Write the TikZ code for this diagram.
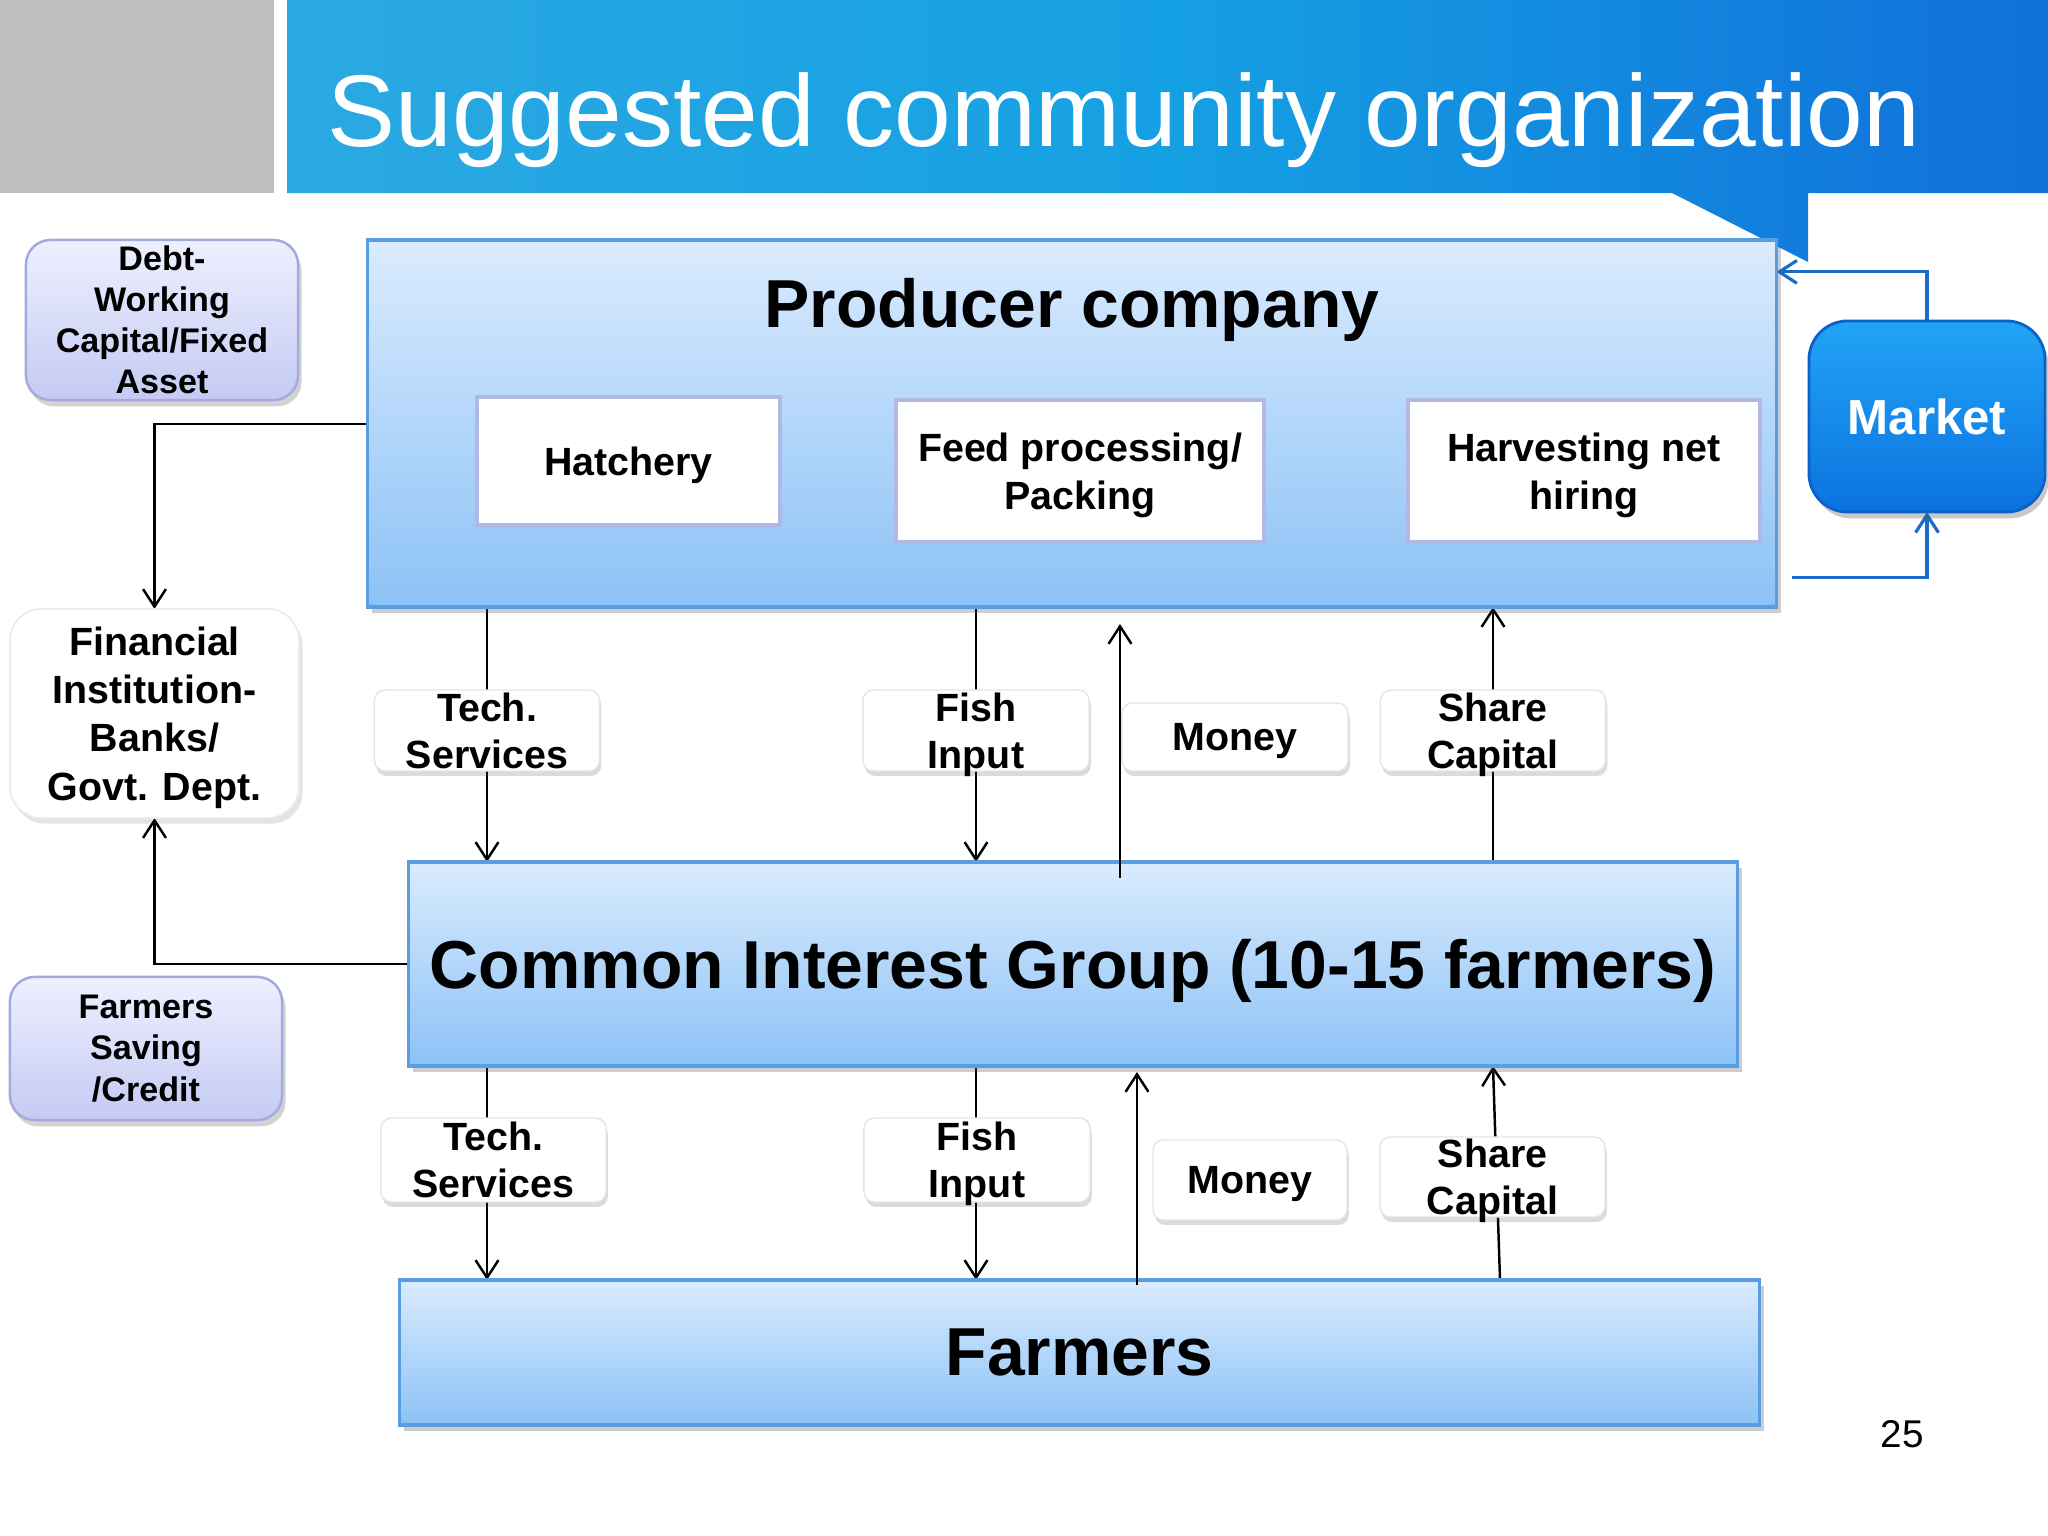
\documentclass[tikz,border=0pt]{standalone}
\usepackage{fontspec}
\setmainfont{Liberation Sans}
\usetikzlibrary{arrows.meta,shadows,calc}
\definecolor{bandL}{HTML}{2BA9E2}
\definecolor{bandM}{HTML}{15A0E3}
\definecolor{bandR}{HTML}{1070DA}
\definecolor{bigTop}{HTML}{DAEBFE}
\definecolor{bigBot}{HTML}{8CC2F6}
\definecolor{bigEdge}{HTML}{5A9EE2}
\definecolor{innerEdge}{HTML}{B0B9E6}
\definecolor{lavTop}{HTML}{EEF0FF}
\definecolor{lavBot}{HTML}{C4CAF3}
\definecolor{lavEdge}{HTML}{A3ABDD}
\definecolor{mktTop}{HTML}{22A4F6}
\definecolor{mktBot}{HTML}{0B72E0}
\definecolor{mktEdge}{HTML}{0A62C8}
\definecolor{mktLine}{HTML}{1A6CC8}
\definecolor{hdrGray}{HTML}{BFBFBF}
\pgfdeclarelayer{back}
\pgfdeclarelayer{bg}
\pgfsetlayers{back,bg,main}
\tikzset{
  bigbox/.style={draw=bigEdge, line width=1pt, top color=bigTop, bottom color=bigBot,
    outer sep=0pt, inner sep=0pt, text depth=0pt,
    drop shadow={shadow xshift=1.2pt, shadow yshift=-1.6pt, opacity=0.28, fill=black!70}},
  bigtext/.style={font=\fontsize{19.3}{23}\selectfont\bfseries},
  innerbox/.style={draw=innerEdge, line width=1.3pt, fill=white, outer sep=0pt, inner sep=1pt,
    align=center, text depth=0pt, font=\fontsize{11.2}{13.7}\selectfont\bfseries},
  lavbox/.style={draw=lavEdge, line width=0.7pt, rounded corners=7pt, top color=lavTop,
    bottom color=lavBot, outer sep=0pt, inner sep=1pt, align=center,
    drop shadow={shadow xshift=1pt, shadow yshift=-1.8pt, opacity=0.25, fill=black!70},
    font=\fontsize{9.7}{11.7}\selectfont\bfseries},
  finbox/.style={draw=black!8, line width=0.5pt, fill=white, rounded corners=9pt, outer sep=0pt,
    inner sep=1pt, align=center, text depth=0pt,
    drop shadow={shadow xshift=1pt, shadow yshift=-1.6pt, opacity=0.15, fill=black!70},
    font=\fontsize{11.2}{13.7}\selectfont\bfseries},
  mktbox/.style={draw=mktEdge, line width=0.8pt, rounded corners=11pt, top color=mktTop,
    bottom color=mktBot, outer sep=0pt, text=white,
    drop shadow={shadow xshift=1pt, shadow yshift=-1.8pt, opacity=0.3, fill=black!70},
    font=\fontsize{14}{17}\selectfont\bfseries},
  tagbox/.style={draw=black!10, line width=0.4pt, fill=white, rounded corners=3pt, outer sep=0pt,
    drop shadow={shadow xshift=0.5pt, shadow yshift=-1.4pt, opacity=0.2, fill=black!70}},
  tagtext/.style={align=center, inner sep=0pt, text depth=0pt, font=\fontsize{11.2}{13.4}\selectfont\bfseries},
  conn/.style={draw=black, line width=0.7pt, -{Straight Barb[length=5pt,width=6.5pt]}},
  mconn/.style={draw=mktLine, line width=0.9pt, -{Straight Barb[length=5pt,width=6.5pt]}},
}
\begin{document}
\begin{tikzpicture}[x=0.01cm,y=-0.01cm]
\useasboundingbox (0,0) rectangle (2048,1536);
\begin{pgfonlayer}{back}
\fill[white] (0,0) rectangle (2048,1536);
\end{pgfonlayer}
% header
\fill[hdrGray] (0,0) rectangle (274,193);
\shade[left color=bandL, right color=bandR, middle color=bandM]
  (287,0) -- (2048,0) -- (2048,193) -- (1808,193) -- (1808,262) -- (1672,193) -- (287,193) -- cycle;
\node[anchor=base, text=white, font=\fontsize{29}{35}\selectfont, inner sep=0pt] (title)
  at (1124,146) {Suggested community organization};

% main boxes
\node[bigbox, minimum width=14.08cm, minimum height=3.67cm] (pc) at (1072,423.5) {};
\node[bigtext, anchor=base, inner sep=0pt] (pct) at (1072,327) {Producer company};
\node[innerbox, minimum width=3.03cm, minimum height=1.28cm] (hat) at (628.5,461) {Hatchery};
\node[innerbox, minimum width=3.68cm, minimum height=1.42cm] (feed) at (1080,471) {Feed processing/\\Packing};
\node[innerbox, minimum width=3.52cm, minimum height=1.42cm] (harv) at (1584,471) {Harvesting net\\hiring};
\node[mktbox, minimum width=2.36cm, minimum height=1.91cm] (mkt) at (1927,416.5) {Market};
\node[lavbox, minimum width=2.72cm, minimum height=1.60cm] (debt) at (162,320) {Debt-\\Working\\Capital/Fixed\\Asset};
\node[finbox, minimum width=2.89cm, minimum height=2.09cm] (fin) at (154.5,713.5) {Financial\\Institution-\\Banks/\\Govt. Dept.};
\node[lavbox, minimum width=2.72cm, minimum height=1.43cm] (sav) at (146,1048.5) {Farmers\\Saving\\/Credit};
\node[bigbox, bigtext, minimum width=13.28cm, minimum height=2.04cm] (cig) at (1073,964) {Common Interest Group (10-15 farmers)};
\node[bigbox, bigtext, minimum width=13.59cm, minimum height=1.45cm] (farm) at (1079.5,1352.5) {Farmers};

% money lines (over the big boxes, under the tags)
\coordinate (m1a) at (1120,878);
\coordinate (m1b) at (1120,624);
\draw[conn] (m1a) -- (m1b);
\coordinate (m2a) at (1137,1285);
\coordinate (m2b) at (1137,1072);
\draw[conn] (m2a) -- (m2b);

% tags upper row
\node[tagbox, minimum width=2.25cm, minimum height=0.81cm] (ts1) at (487,730.5) {};
\node[tagtext] (ts1t) at (ts1) {Tech.\\Services};
\node[tagbox, minimum width=2.26cm, minimum height=0.81cm] (fi1) at (976,730.5) {};
\node[tagtext] (fi1t) at (fi1) {Fish\\Input};
\node[tagbox, minimum width=2.26cm, minimum height=0.68cm] (mo1) at (1235,737) {};
\node[tagtext] (mo1t) at (mo1) {Money};
\node[tagbox, minimum width=2.25cm, minimum height=0.81cm] (sc1) at (1493,730.5) {};
\node[tagtext] (sc1t) at (sc1) {Share\\Capital};
% tags lower row
\node[tagbox, minimum width=2.25cm, minimum height=0.84cm] (ts2) at (493.5,1160) {};
\node[tagtext] (ts2t) at (ts2) {Tech.\\Services};
\node[tagbox, minimum width=2.26cm, minimum height=0.84cm] (fi2) at (977,1160) {};
\node[tagtext] (fi2t) at (fi2) {Fish\\Input};
\node[tagbox, minimum width=1.94cm, minimum height=0.80cm] (mo2) at (1250,1180) {};
\node[tagtext] (mo2t) at (mo2) {Money};
\node[tagbox, minimum width=2.25cm, minimum height=0.80cm] (sc2) at (1492.5,1177) {};
\node[tagtext] (sc2t) at (sc2) {Share\\Capital};

\node[font=\fontsize{11}{13}\selectfont, inner sep=0pt] (pg) at (1902,1434) {25};

% connectors behind
\begin{pgfonlayer}{bg}
\draw[conn] (pc.south -| ts1) -- (cig.north -| ts1);
\draw[conn] (pc.south -| fi1) -- (cig.north -| fi1);
\draw[conn] (cig.north -| sc1) -- (pc.south -| sc1);
\draw[conn] (cig.south -| ts1) -- (farm.north -| ts1);
\draw[conn] (cig.south -| fi1) -- (farm.north -| fi1);
\draw[conn] ($(farm.north -| sc1)+(7,0)$) -- (cig.south -| sc1);
\draw[conn] ($(pc.north west)+(0,184)$) -| (fin.north);
\draw[conn] (cig.west) -| (fin.south);
\draw[mconn] (mkt.north) |- ($(pc.north east)+(0,32)$);
\draw[mconn] ($(pc.south east)+(16,-30)$) -| (mkt.south);
\end{pgfonlayer}
\end{tikzpicture}
\end{document}
